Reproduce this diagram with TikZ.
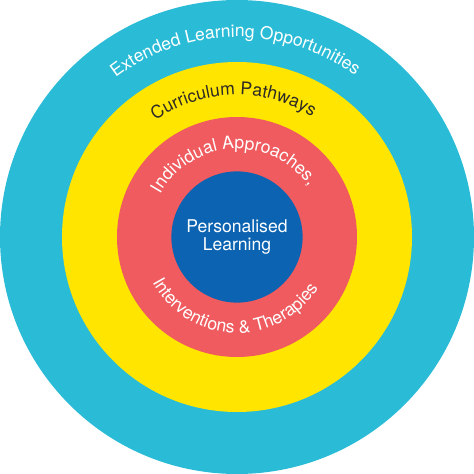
\documentclass[tikz,border=0pt]{standalone}
\usepackage{fontspec}
\usepackage{xcolor}
\usepackage{tikz}
\usetikzlibrary{decorations.text}
\newfontfamily\ringfont{TeX Gyre Heros}

\definecolor{ringcyan}{HTML}{2ABCD7}
\definecolor{ringyellow}{HTML}{FFE500}
\definecolor{ringred}{HTML}{EF5B5E}
\definecolor{ringblue}{HTML}{0B63B1}
\definecolor{ringdark}{HTML}{2D2A26}

\begin{document}
\begin{tikzpicture}[
  font=\ringfont\fontsize{12.5}{14}\selectfont,
  ring/.style={circle, draw=none, inner sep=0pt},
  arctext/.style={decorate, decoration={text along path, text align=center,
                  text color=#1}},
]
\useasboundingbox (-5.925,-5.925) rectangle (5.925,5.925);

\node[ring, fill=ringcyan, minimum size=11.85cm] (extended) at (0,0) {};
\node[ring, fill=ringyellow, minimum size=8.75cm] (curriculum) at (0,0) {};
\node[ring, fill=ringred, minimum size=6cm] (individual) at (0,0) {};
\node[ring, fill=ringblue, minimum size=3.28cm, align=center,
      text=white] (personal) at (0,0) {Personalised\\[-1pt]Learning};

% texts round the rings
\path[arctext=white, decoration={text={|\ringfont\fontsize{12.5}{14}\selectfont|Extended Learning Opportunities}}]
  (160:5) arc[start angle=160, end angle=21, radius=5];
\path[arctext=ringdark, decoration={text={|\ringfont\fontsize{12.5}{14}\selectfont|Curriculum Pathways}}]
  (160:3.55) arc[start angle=160, end angle=23, radius=3.55];
\path[arctext=white, decoration={text={|\ringfont\fontsize{12.5}{14}\selectfont|Individual Approaches,}}]
  (175:2.2) arc[start angle=175, end angle=11, radius=2.2];
\path[arctext=white, decoration={text={|\ringfont\fontsize{12.5}{14}\selectfont|Interventions {\&} Therapies}}]
  (185:2.4) arc[start angle=185, end angle=351, radius=2.4];
\end{tikzpicture}
\end{document}
